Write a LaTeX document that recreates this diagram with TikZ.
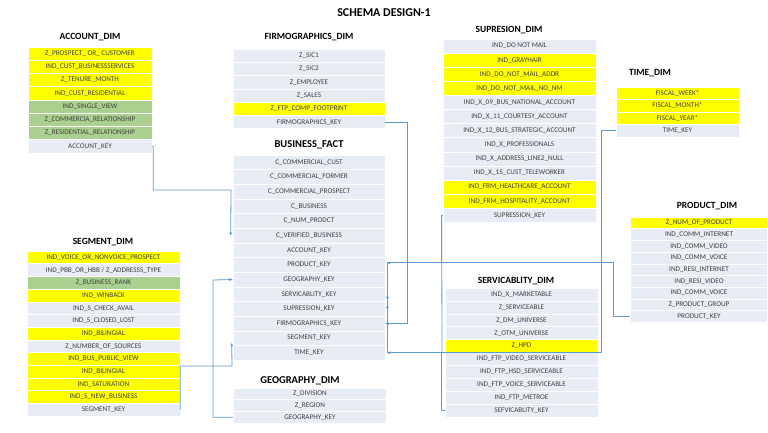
\documentclass[tikz,border=0pt]{standalone}
\usepackage{fontspec}
\setmainfont{Carlito}
\usetikzlibrary{calc,arrows.meta}
\definecolor{Y}{HTML}{FFFF00}
\definecolor{G}{HTML}{A9D08E}
\definecolor{L}{HTML}{E8EDF5}
\definecolor{ln}{HTML}{5B9BD5}
\newcommand\dimtab[6]{%
  \foreach \t/\c [count=\i] in {#6} {
    \node[row, fill=\c, minimum width=#3, minimum height=#5] (#1-\i) at (#2, {#4+(\i-0.5)*#5}) {\t};
  }}
\begin{document}
\begin{tikzpicture}[x=1pt,y=-1pt,
  row/.style={draw=white, line width=0.6pt, inner sep=0pt, font=\fontsize{7.2}{8}\selectfont, text=black!75},
  ttl/.style={font=\bfseries\fontsize{9.5}{10}\selectfont, inner sep=0pt},
  conn/.style={draw=ln, line width=0.8pt},
  arr/.style={conn, -{Stealth[length=3.5pt,width=3pt]}}]
\useasboundingbox (0,0) rectangle (768,433);
\node[ttl, font=\bfseries\fontsize{12}{13}\selectfont] (title) at (384,13) {SCHEMA DESIGN-1};

\node[ttl] (tacc) at (90,37) {ACCOUNT\_DIM};
\dimtab{acc}{90}{124}{47}{13.25}{Z\_PROSPECT\_ OR\_ CUSTOMER/Y, IND\_CUST\_BUSINESSSERVICES/Y, Z\_TENURE\_MONTH/Y, IND\_CUST\_RESIDENTIAL/Y, IND\_SINGLE\_VIEW/G, Z\_COMMERCIA\_RELATIONSHIP/G, Z\_RESIDENTIAL\_RELATIONSHIP/G, ACCOUNT\_KEY/L}

\node[ttl] (tseg) at (103,242) {SEGMENT\_DIM};
\dimtab{seg}{103.5}{153}{251}{12.7}{IND\_VOICE\_OR\_NONVOICE\_PROSPECT/Y, {IND\_PBB\_OR\_HBB / Z\_ADDRESSS\_TYPE}/L, Z\_BUSINESS\_RANK/G, IND\_WINBACK/Y, IND\_S\_CHECK\_AVAIL/L, IND\_S\_CLOSED\_LOST/L, IND\_BILINGIAL/Y, Z\_NUMBER\_OF\_SOURCES/L, IND\_BUS\_PUBLIC\_VIEW/Y, IND\_BILINGIAL/Y, IND\_SATURATION/Y, IND\_S\_NEW\_BUSINESS/Y, SEGMENT\_KEY/L}

\node[ttl] (tfirm) at (309,37) {FIRMOGRAPHICS\_DIM};
\dimtab{firm}{309}{152}{49}{13.3}{Z\_SIC1/L, Z\_SIC2/L, Z\_EMPLOYEE/L, Z\_SALES/L, Z\_FTP\_COMP\_FOOTPRINT/Y, FIRMOGRAPHICS\_KEY/L}

\node[ttl, font=\bfseries\fontsize{10.5}{11}\selectfont] (tbf) at (309,145) {BUSINESS\_FACT};
\dimtab{bf}{309}{152}{155}{14.65}{C\_COMMERCIAL\_CUST/L, C\_COMMERCIAL\_FORMER/L, C\_COMMERCIAL\_PROSPECT/L, C\_BUSINESS/L, C\_NUM\_PRODCT/L, C\_VERIFIED\_BUSINESS/L, ACCOUNT\_KEY/L, PRODUCT\_KEY/L, GEOGRAPHY\_KEY/L, SERVICABLITY\_KEY/L, SUPRESSION\_KEY/L, FIRMOGRAPHICS\_KEY/L, SEGMENT\_KEY/L, TIME\_KEY/L}

\node[ttl, font=\bfseries\fontsize{10.5}{11}\selectfont] (tgeo) at (300,381) {GEOGRAPHY\_DIM};
\dimtab{geo}{310}{153}{388}{11.7}{Z\_DIVISION/L, Z\_REGION/L, GEOGRAPHY\_KEY/L}

\node[ttl] (tsup) at (509,30) {SUPRESION\_DIM};
\dimtab{sup}{519.5}{153}{39}{14.1}{IND\_DO NOT MAIL/L, IND\_GRAYHAIR/Y, IND\_DO\_NOT\_MAIL\_ADDR/Y, IND\_DO\_NOT\_MAIL\_NO\_NM/Y, IND\_X\_09\_BUS\_NATIONAL\_ACCOUNT/L, IND\_X\_11\_COURTESY\_ACCOUNT/L, IND\_X\_12\_BUS\_STRATEGIC\_ACCOUNT/L, IND\_X\_PROFESSIONALS/L, IND\_X\_ADDRESS\_LINE2\_NULL/L, IND\_X\_15\_CUST\_TELEWORKER/L, IND\_FRM\_HEALTHCARE\_ACCOUNT/Y, IND\_FRM\_HOSPITALITY\_ACCOUNT/Y, SUPRESSION\_KEY/L}

\node[ttl] (tsrv) at (516,281) {SERVICABLITY\_DIM};
\dimtab{srv}{521.5}{153}{288}{12.9}{IND\_X\_MARKETABLE/L, Z\_SERVICEABLE/L, Z\_DM\_UNIVERSE/L, Z\_OTM\_UNIVERSE/L, Z\_HPD/Y, IND\_FTP\_VIDEO\_SERVICEABLE/L, IND\_FTP\_HSD\_SERVICEABLE/L, IND\_FTP\_VOICE\_SERVICEABLE/L, IND\_FTP\_METROE/L, SEFVICABLITY\_KEY/L}

\node[ttl] (ttime) at (650,73) {TIME\_DIM};
\dimtab{time}{677.5}{123}{87}{12.5}{FISCAL\_WEEK*/Y, FISCAL\_MONTH*/Y, FISCAL\_YEAR*/Y, TIME\_KEY/L}

\node[ttl] (tprod) at (707,206) {PRODUCT\_DIM};
\dimtab{prod}{699}{137}{217}{11.7}{Z\_NUM\_OF\_PRODUCT/Y, IND\_COMM\_INTERNET/L, IND\_COMM\_VIDEO/L, IND\_COMM\_VOICE/L, IND\_RESI\_INTERNET/L, IND\_RESI\_VIDEO/L, IND\_COMM\_VOICE/L, Z\_PRODUCT\_GROUP/L, PRODUCT\_KEY/L}

% connectors
\draw[arr] (acc-8.east) -- ++(1,0) |- (231,190) -- ($(bf-6.west)+(-2,0)$);
\draw[arr] (geo-3.west) -| (213,280) -- (bf-9.west);
\draw[arr] (seg-13.east) |- (232,366) -- ($(bf-13.west)+(-1,5)$);
\draw[arr] (firm-6.east) -- ++(22,0) |- (bf-12.east);
\draw[arr] (prod-9.west) -- ++(-17,0) |- ($(bf-8.east)+(2,-2)$);
\draw[arr] (time-4.west) -- ++(-14,0) |- ($(bf-14.east)+(2,0)$);
\draw[arr] (sup-13.west) -- ++(-1,0) |- ($(bf-8.east)+(2,-2)$) -- ($(bf-11.east)+(2,1)$);
\draw[arr] (srv-10.west) -- ++(-3,0) |- ($(bf-14.east)+(2,0)$) -- ($(bf-10.east)+(2,1)$);
\draw[conn] (sup-13.west) ++(-1,0) -- (442,353);
\end{tikzpicture}
\end{document}
